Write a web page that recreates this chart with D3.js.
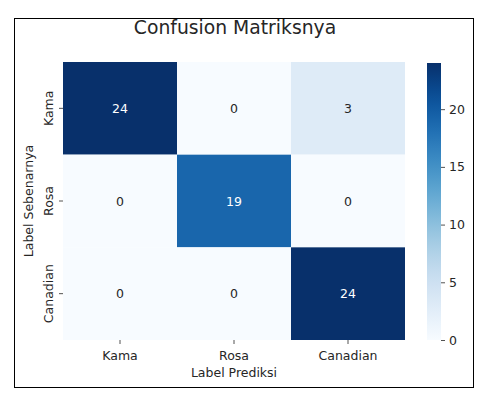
<!DOCTYPE html>
<html><head><meta charset="utf-8">
<script src="https://cdn.jsdelivr.net/npm/d3@7"></script>
<style>body{margin:0;background:#fff;} text{font-family:"DejaVu Sans",sans-serif;}</style>
</head><body>
<svg id="c" width="488" height="399"></svg>
<script>
const categories = ["Kama", "Rosa", "Canadian"];
const actualLabels = ["Kama", "Rosa", "Canadian"];
const matrix = [
  [24, 0, 3],
  [0, 19, 0],
  [0, 0, 24]
];
const colorbarTicks = [0, 5, 10, 15, 20];
const chartTitle = "Confusion Matriksnya";
const xTitle = "Label Prediksi";
const yTitle = "Label Sebenarnya";

const FS = 12.5;
const svg = d3.select("#c");
svg.append("rect").attr("x", 14.5).attr("y", 18.5).attr("width", 459).attr("height", 369)
  .attr("fill", "#fff").attr("stroke", "#000").attr("stroke-width", 1);

const mLeft = 63, mRight = 405, mTop = 62, mBottom = 340;
const x = d3.scaleBand().domain(categories).range([mLeft, mRight]);
const y = d3.scaleBand().domain(actualLabels).range([mTop, mBottom]);
const vmax = d3.max(matrix.flat());
const color = d3.scaleSequential(d3.interpolateBlues).domain([0, vmax]);

const cells = [];
matrix.forEach((row, i) => row.forEach((v, j) => cells.push({r: actualLabels[i], c: categories[j], v})));

svg.selectAll("rect.cell").data(cells).join("rect").attr("class", "cell")
  .attr("x", d => x(d.c)).attr("y", d => y(d.r))
  .attr("width", x.bandwidth()).attr("height", y.bandwidth())
  .attr("fill", d => color(d.v));

svg.selectAll("text.ann").data(cells).join("text").attr("class", "ann")
  .attr("x", d => x(d.c) + x.bandwidth() / 2).attr("y", d => y(d.r) + y.bandwidth() / 2)
  .attr("text-anchor", "middle").attr("dominant-baseline", "central")
  .attr("font-size", FS).attr("fill", d => d.v > vmax / 2 ? "#ffffff" : "#262626")
  .text(d => d.v);

// x axis
const xa = svg.append("g").attr("transform", `translate(0,${mBottom})`)
  .call(d3.axisBottom(x).tickSize(4).tickPadding(3.5));
xa.select(".domain").remove();
xa.selectAll("line").attr("stroke", "#262626").attr("stroke-width", 0.8);
xa.selectAll(".tick text").attr("font-size", FS).attr("fill", "#262626").attr("font-family", "DejaVu Sans")
  .attr("y", 20).attr("dy", 0);

// y axis
const ya = svg.append("g").attr("transform", `translate(${mLeft},0)`)
  .call(d3.axisLeft(y).tickSize(4).tickPadding(3.5));
ya.select(".domain").remove();
ya.selectAll("line").attr("stroke", "#262626").attr("stroke-width", 0.8);
ya.selectAll(".tick text").attr("font-size", FS).attr("fill", "#262626").attr("font-family", "DejaVu Sans")
  .attr("transform", "rotate(-90)")
  .attr("x", 0).attr("dy", 0).attr("y", -10)
  .attr("text-anchor", "middle");

// titles
svg.append("text").attr("x", 235).attr("y", 33.5).attr("text-anchor", "middle")
  .attr("font-size", 18.75).attr("fill", "#262626").text(chartTitle);
svg.append("text").attr("x", 234).attr("y", 377).attr("text-anchor", "middle")
  .attr("font-size", FS).attr("fill", "#262626").text(xTitle);
svg.append("text").attr("transform", `translate(32.5,${(mTop + mBottom) / 2}) rotate(-90)`)
  .attr("text-anchor", "middle").attr("font-size", FS).attr("fill", "#262626").text(yTitle);

// colorbar
const cbX = 427, cbW = 14, cbTop = 63, cbBottom = 340;
const cy = d3.scaleLinear().domain([0, vmax]).range([cbBottom, cbTop]);
const defs = svg.append("defs");
const grad = defs.append("linearGradient").attr("id", "g").attr("x1", 0).attr("y1", 1).attr("x2", 0).attr("y2", 0);
d3.range(0, 1.0001, 0.05).forEach(t => grad.append("stop").attr("offset", t).attr("stop-color", color(t * vmax)));
svg.append("rect").attr("x", cbX).attr("y", cbTop).attr("width", cbW).attr("height", cbBottom - cbTop).attr("fill", "url(#g)");
const ca = svg.append("g").attr("transform", `translate(${cbX + cbW},0)`)
  .call(d3.axisRight(cy).tickValues(colorbarTicks).tickSize(4).tickPadding(4));
ca.select(".domain").remove();
ca.selectAll("line").attr("stroke", "#262626").attr("stroke-width", 0.8);
ca.selectAll("text").attr("font-size", FS).attr("fill", "#262626").attr("font-family", "DejaVu Sans");
</script>
</body></html>
